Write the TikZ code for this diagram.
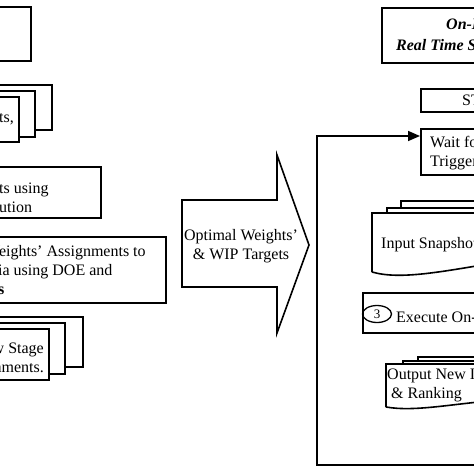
\documentclass[tikz,border=0pt]{standalone}
\usepackage{fontspec}
\setmainfont{Liberation Serif}
\usepackage{tikz}
\usetikzlibrary{arrows.meta,shapes.geometric}

\begin{document}
\begin{tikzpicture}[x=1pt,y=-1pt,>={Triangle[length=12pt,width=10pt]},
  box/.style={draw,line width=1.6pt,fill=white,inner sep=0pt},
  doc/.style={draw,line width=1.6pt,fill=white},
  txt/.style={font=\fontsize{16}{19}\selectfont,inner sep=0pt,align=left}]
\useasboundingbox (0,0) rectangle (474,474);
\clip (0,0) rectangle (474,474);
%%%LEFT COLUMN
\node[box,anchor=north east,minimum width=140,minimum height=54] (top) at (32,6) {};
\node[box,anchor=north east,minimum width=160,minimum height=45] (stg3) at (53,84) {};
\node[box,anchor=north east,minimum width=150,minimum height=46] (stg2) at (36,90) {};
\node[box,anchor=north east,minimum width=140,minimum height=45] (stg1) at (20,96) {};
\node[txt,anchor=east] (stgtxt) at (14,119) {ts,};
\node[box,anchor=north east,minimum width=200,minimum height=51] (sim) at (102,166) {};
\node[txt,anchor=west] (simtxt) at (-1,197.5) {ts using\\ution};
\node[box,anchor=north east,minimum width=270,minimum height=66] (doe) at (167,236) {};
\node[txt,anchor=west] (doetxt) at (-2,270) {\hspace*{-13pt}Weights' Assignments to\\ia using DOE and\\\textbf{s}};
\node[box,anchor=north east,minimum width=184,minimum height=50] (asg3) at (84,316) {};
\node[box,anchor=north east,minimum width=166,minimum height=51] (asg2) at (66,322) {};
\node[box,anchor=north east,minimum width=150,minimum height=51] (asg1) at (50,328) {};
\node[txt,anchor=east,align=right] (asgtxt) at (44,357.5) {w Stage\\nments.};
%%%BIG ARROW
\draw[line width=1.6pt] (182,200) -- (277,200) -- (277,155) -- (309,245)
  -- (277,333) -- (277,287) -- (182,287) -- cycle;
\node[txt,align=center] (opt) at (241,246) {Optimal Weights'\\\& WIP Targets};
%%%RIGHT COLUMN
\node[box,anchor=north west,minimum width=180,minimum height=55] (hdr) at (381,7) {};
\node[txt,anchor=west,font=\fontsize{16}{21}\selectfont\bfseries\itshape] (hdrtxt) at (396,35) {\hspace*{50pt}On-L\\Real Time S};
\node[box,anchor=north west,minimum width=140,minimum height=23] (start) at (420,88) {};
\node[txt,anchor=west] (starttxt) at (462,100) {ST};
\node[box,anchor=north west,minimum width=140,minimum height=46] (wait) at (420,128) {};
\node[txt,anchor=west] (waittxt) at (430,153) {Wait fo\\Trigger};
% input snapshot pages
\draw[doc] (401,240) -- (401,201) -- (500,201) -- (500,240);
\draw[doc] (387,240) -- (387,208) -- (500,208) -- (500,240);
\draw[doc] (372,272) -- (372,213) -- (500,213) -- (500,262)
  .. controls (440,272) and (400,280) .. (372,272);
\node[txt,anchor=west] (snap) at (381,245) {Input Snapshot};
\node[box,anchor=north west,minimum width=200,minimum height=40] (exec) at (362,292) {};
\node[draw,ellipse,line width=1.3pt,minimum width=29,minimum height=17,inner sep=0pt,
  font=\fontsize{13}{13}\selectfont] (three) at (377,314) {3};
\node[txt,anchor=west] (exectxt) at (396,317) {Execute On-};
% output pages
\draw[doc] (418,390) -- (418,357) -- (500,357) -- (500,390);
\draw[doc] (403,390) -- (403,361) -- (500,361) -- (500,390);
\draw[doc] (386,407) -- (386,364) -- (500,364) -- (500,400)
  .. controls (450,404) and (415,412) .. (386,407);
\node[txt,anchor=west] (outtxt) at (387,385) {Output New I\\\hspace*{4pt}\& Ranking};
%%%LOOP BACK
\coordinate (lr) at (490,465);
\coordinate (ll) at (317,465);
\coordinate (lu) at (317,136);
\draw[->,line width=1.6pt] (lr) -- (ll) -- (lu) -- (lu -| wait.west);
\end{tikzpicture}
\end{document}
